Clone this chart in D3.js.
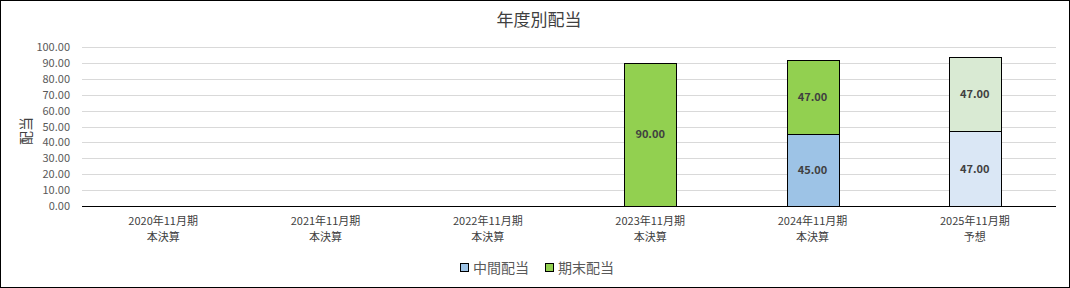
<!DOCTYPE html>
<html><head><meta charset="utf-8">
<script src="https://cdn.jsdelivr.net/npm/d3@7"></script>
<style>
body{margin:0;padding:0;background:#fff;}
svg{display:block;font-family:"Noto Sans CJK JP","Noto Sans",sans-serif;}
</style></head>
<body>
<svg id="chart" width="1070" height="288"></svg>
<script>
const categories = ["2020年11月期\n本決算","2021年11月期\n本決算","2022年11月期\n本決算","2023年11月期\n本決算","2024年11月期\n本決算","2025年11月期\n予想"];
const interim = [null,null,null,null,45,47];
const yearEnd = [null,null,null,90,47,47];
const forecast = [false,false,false,false,false,true];
const yTicks = [0,10,20,30,40,50,60,70,80,90,100];
const seriesNames = ["中間配当","期末配当"];

const svg = d3.select("#chart");
const W=1070,H=288;
svg.append("rect").attr("x",0.5).attr("y",0.5).attr("width",W-1).attr("height",H-1).attr("fill","#fff").attr("stroke","#000");

const m={left:82,right:1056,top:47,bottom:206};
const x=d3.scaleBand().domain(categories).range([m.left,m.right]).paddingInner(0.68).paddingOuter(0.34);
const y=d3.scaleLinear().domain([0,100]).range([m.bottom,m.top]);

// grid
svg.append("g").selectAll("line").data(yTicks.filter(d=>d>0)).join("line")
  .attr("x1",m.left).attr("x2",m.right).attr("y1",d=>Math.round(y(d))+0.5).attr("y2",d=>Math.round(y(d))+0.5)
  .attr("stroke","#d9d9d9").attr("stroke-width",1);

// y axis labels
const ya=svg.append("g").attr("transform",`translate(${m.left},0)`)
  .call(d3.axisLeft(y).tickValues(yTicks).tickFormat(d=>d.toFixed(2)).tickSize(0).tickPadding(12));
ya.select(".domain").remove();
ya.selectAll("text").attr("fill","#595959").style("font-size","11px").style("font-family","'Noto Sans CJK JP',sans-serif");

const colors={interim:"#9dc3e6",yearEnd:"#92d050",interimF:"#dae7f5",yearEndF:"#d9ead3"};

const stacks=categories.map((c,i)=>{
  const out=[]; let base=0;
  if(interim[i]!=null){out.push({c,v:interim[i],y0:base,y1:base+interim[i],fill:forecast[i]?colors.interimF:colors.interim});base+=interim[i];}
  if(yearEnd[i]!=null){out.push({c,v:yearEnd[i],y0:base,y1:base+yearEnd[i],fill:forecast[i]?colors.yearEndF:colors.yearEnd});base+=yearEnd[i];}
  return out;
}).flat();

svg.append("g").selectAll("rect").data(stacks).join("rect")
  .attr("x",d=>Math.round(x(d.c))+0.5).attr("width",Math.round(x.bandwidth()))
  .attr("y",d=>Math.round(y(d.y1))+0.5).attr("height",d=>Math.round(y(d.y0))-Math.round(y(d.y1)))
  .attr("fill",d=>d.fill).attr("stroke","#000").attr("stroke-width",1);

svg.append("g").selectAll("text").data(stacks).join("text")
  .attr("x",d=>x(d.c)+x.bandwidth()/2).attr("y",d=>y((d.y0+d.y1)/2)+4)
  .attr("text-anchor","middle").attr("fill","#404040").style("font-size","11px").style("font-weight","bold")
  .text(d=>d.v.toFixed(2));

// baseline
svg.append("line").attr("x1",m.left).attr("x2",m.right).attr("y1",m.bottom+0.5).attr("y2",m.bottom+0.5).attr("stroke","#000");

// x labels
const xl=svg.append("g").selectAll("text").data(categories).join("text")
  .attr("x",d=>x(d)+x.bandwidth()/2).attr("y",225).attr("text-anchor","middle")
  .attr("fill","#404040").style("font-size","11px");
xl.each(function(d){const t=d3.select(this);d.split("\n").forEach((s,i)=>t.append("tspan").attr("x",x(d)+x.bandwidth()/2).attr("dy",i?16:0).text(s));});

// title
svg.append("text").attr("x",539).attr("y",26).attr("text-anchor","middle").attr("fill","#404040")
  .style("font-size","17px").text("年度別配当");

// y axis title
svg.append("text").attr("transform","translate(31,131) rotate(-90)").attr("text-anchor","middle")
  .attr("fill","#404040").style("font-size","14px").text("配当");

// legend
const leg=svg.append("g");
const legItems=[{n:seriesNames[0],c:colors.interim,x:460},{n:seriesNames[1],c:colors.yearEnd,x:545}];
legItems.forEach(it=>{
  leg.append("rect").attr("x",it.x+0.5).attr("y",263.5).attr("width",8).attr("height",8).attr("fill",it.c).attr("stroke","#000");
  leg.append("text").attr("x",it.x+13).attr("y",273).attr("fill","#595959").style("font-size","14px").text(it.n);
});
</script>
</body></html>
